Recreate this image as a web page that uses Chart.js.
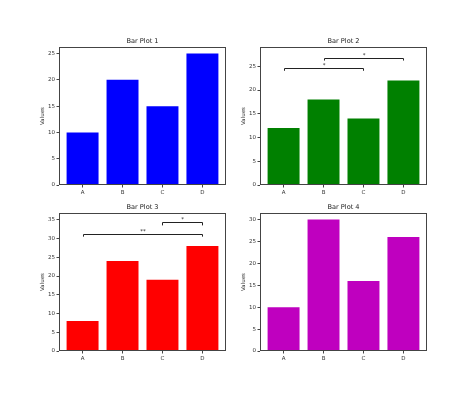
<!DOCTYPE html>
<html lang="en">
<head>
<meta charset="UTF-8">
<title>Bar Plots</title>
<script src="https://cdn.jsdelivr.net/npm/chart.js"></script>
<style>
  html, body { margin: 0; padding: 0; background: #fff; }
  body { width: 474px; height: 395px; position: relative; overflow: hidden; }
  .cell { position: absolute; width: 237px; height: 200px; }
</style>
</head>
<body>
<div class="cell" style="left:0;top:0"><canvas id="c1"></canvas></div>
<div class="cell" style="left:201px;top:0"><canvas id="c2"></canvas></div>
<div class="cell" style="left:0;top:166px"><canvas id="c3"></canvas></div>
<div class="cell" style="left:201px;top:166px"><canvas id="c4"></canvas></div>

<script>
const categories = ['A', 'B', 'C', 'D'];
const values1 = [10, 20, 15, 25];
const values2 = [12, 18, 14, 22];
const values3 = [8, 24, 19, 28];
const values4 = [10, 30, 16, 26];
const yMax = [26.25, 29.05, 36.8, 31.5];
const yStep = 5;
// significance brackets: [from, to, level, drop, label]
const brackets2 = [[0, 2, 24.6, 0.55, '*'], [1, 3, 26.75, 0.55, '*']];
const brackets3 = [[0, 3, 31.3, 0.8, '**'], [2, 3, 34.3, 0.8, '*']];

const FONT = '"DejaVu Sans", sans-serif';

function framePlugin(brackets) {
    return {
        id: 'frame',
        afterDatasetsDraw(chart) {
            const { ctx, chartArea: a, scales: { x, y } } = chart;
            ctx.save();
            ctx.strokeStyle = '#444';
            ctx.lineWidth = 1;
            ctx.strokeRect(Math.round(a.left) + 0.5, Math.round(a.top) + 0.5,
                Math.round(a.width) - 1, Math.round(a.height) - 1);
            brackets.forEach(([i, j, lvl, drop, label]) => {
                const x1 = Math.round(x.getPixelForValue(i)) + 0.5;
                const x2 = Math.round(x.getPixelForValue(j)) + 0.5;
                const yt = Math.round(y.getPixelForValue(lvl)) + 0.5;
                const yb = y.getPixelForValue(lvl - drop);
                ctx.strokeStyle = '#222';
                ctx.beginPath();
                ctx.moveTo(x1, yb);
                ctx.lineTo(x1, yt);
                ctx.lineTo(x2, yt);
                ctx.lineTo(x2, yb);
                ctx.stroke();
                ctx.fillStyle = '#222';
                ctx.font = '5.5px ' + FONT;
                ctx.textAlign = 'center';
                ctx.textBaseline = 'alphabetic';
                ctx.fillText(label, (x1 + x2) / 2, yt - 1.5);
            });
            ctx.restore();
        }
    };
}

function makeChart(id, title, values, color, max, brackets) {
    new Chart(document.getElementById(id), {
        type: 'bar',
        data: {
            datasets: [{
                data: values.map((v, i) => ({ x: i, y: v })),
                backgroundColor: color,
                borderWidth: 0,
                barPercentage: 0.8,
                categoryPercentage: 1.0
            }]
        },
        options: {
            responsive: true,
            maintainAspectRatio: false,
            animation: false,
            layout: { padding: { left: 0, right: 11, top: 0, bottom: 0 } },
            plugins: {
                legend: { display: false },
                tooltip: { enabled: false },
                title: {
                    display: true,
                    text: title,
                    fullSize: false,
                    color: '#222',
                    font: { family: FONT, size: 6.6, weight: 'normal' },
                    padding: { top: 37.7, bottom: 1.4 }
                }
            },
            scales: {
                x: {
                    type: 'linear',
                    offset: false,
                    min: -0.59,
                    max: 3.59,
                    afterBuildTicks: s => { s.ticks = categories.map((c, i) => ({ value: i })); },
                    afterFit: s => { s.height = 15; },
                    border: { display: false },
                    grid: { offset: false, drawOnChartArea: false, drawTicks: true, tickLength: 2.5, tickColor: '#444' },
                    ticks: {
                        padding: 1.5,
                        color: '#333',
                        maxRotation: 0,
                        font: { family: FONT, size: 5.5 },
                        callback: v => categories[v]
                    }
                },
                y: {
                    min: 0,
                    max: max,
                    afterBuildTicks: s => {
                        const t = [];
                        for (let v = 0; v <= max; v += yStep) t.push({ value: v });
                        s.ticks = t;
                    },
                    afterFit: s => { s.width = 59; },
                    border: { display: false },
                    grid: { drawOnChartArea: false, drawTicks: true, tickLength: 2.5, tickColor: '#444' },
                    ticks: {
                        padding: 1.5,
                        color: '#333',
                        font: { family: FONT, size: 5.5 }
                    },
                    title: {
                        display: true,
                        text: 'Values',
                        color: '#333',
                        font: { family: FONT, size: 5.5 },
                        padding: { top: 39.4, bottom: 0 }
                    }
                }
            }
        },
        plugins: [framePlugin(brackets)]
    });
}

makeChart('c1', 'Bar Plot 1', values1, '#0000ff', yMax[0], []);
makeChart('c2', 'Bar Plot 2', values2, '#008000', yMax[1], brackets2);
makeChart('c3', 'Bar Plot 3', values3, '#ff0000', yMax[2], brackets3);
makeChart('c4', 'Bar Plot 4', values4, '#bf00bf', yMax[3], []);
</script>
</body>
</html>
